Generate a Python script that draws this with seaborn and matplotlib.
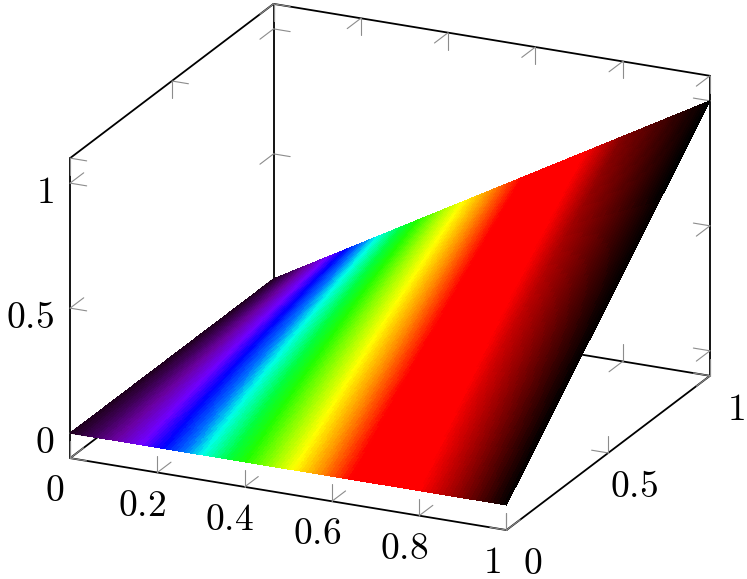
import matplotlib
matplotlib.use("Agg")
import matplotlib.pyplot as plt
import matplotlib.transforms as mtransforms
from matplotlib.colors import LinearSegmentedColormap
import numpy as np
import seaborn as sns

# one bilinear patch: heights and colour values along the front (y=0) and back (y=1) edge
x_vals = [0.0, 0.2, 0.4, 0.6, 0.8, 1.0]
z_front = [0.0, 0.0, 0.0, 0.0, 0.0, 0.0]
z_back = [0.0, 0.2, 0.4, 0.6, 0.8, 1.0]
meta_front = [0.0, 0.2, 0.4, 0.6, 0.8, 1.0]
meta_back = [0.0, 0.26, 0.48, 0.67, 0.90, 1.0]

x_ticks = [0, 0.2, 0.4, 0.6, 0.8, 1]
y_ticks = [0, 0.5, 1]
z_ticks = [0, 0.5, 1]
x_labels = ["0", "0.2", "0.4", "0.6", "0.8", "1"]
y_labels = ["0", "0.5", "1"]
z_labels = ["0", "0.5", "1"]

cmap_pos = [0.0, 0.05, 0.10, 0.16, 0.21, 0.26, 0.30, 0.36, 0.40, 0.47, 0.51, 0.57, 0.64, 0.80, 0.90, 1.0]
cmap_col = ["#200020", "#40005a", "#6a00a0", "#7000ff", "#0000ff", "#0070ff", "#00ffe8", "#00ff40",
            "#20ff00", "#b0ff00", "#ffff00", "#ff9000", "#ff0000", "#ff0000", "#800000", "#000000"]
cmap = LinearSegmentedColormap.from_list("rainbow_black", list(zip(cmap_pos, cmap_col)))

z_lo, z_hi = -0.1, 1.1

sns.set_theme(style="white")
plt.rcParams["mathtext.fontset"] = "cm"

fig = plt.figure(figsize=(7.47, 5.79), dpi=100)
ax = fig.add_axes([0.1241, 0.0254, 0.7751, 1.0], projection="3d", computed_zorder=False)
ax.set_proj_type("ortho")
ax.view_init(elev=20.7, azim=-65)
ax.set_box_aspect((1, 1, 0.666), zoom=1.262)
ax.set_xlim(0, 1)
ax.set_ylim(0, 1)
ax.set_zlim(z_lo, z_hi)
ax.set_axis_off()
for axis in (ax.xaxis, ax.yaxis, ax.zaxis):
    axis.label.set_visible(False)
    axis.offsetText.set_visible(False)

# shader=interp: refine the patch for smooth colours
u = np.linspace(0, 1, 161)
v = np.linspace(0, 1, 61)
U, V = np.meshgrid(u, v)
Z = (1 - V) * np.interp(U, x_vals, z_front) + V * np.interp(U, x_vals, z_back)
M = (1 - V) * np.interp(U, x_vals, meta_front) + V * np.interp(U, x_vals, meta_back)
surf = ax.plot_surface(U, V, Z, facecolors=cmap(M), rstride=1, cstride=1, shade=False,
                       linewidth=0, antialiased=False, zorder=2)
surf.set_clip_on(False)

# box: the edges of the three back faces, with pgfplots style ticks
lims = [(0, 1), (0, 1), (z_lo, z_hi)]
back = [0, 1, z_lo]
ticks = [x_ticks, y_ticks, z_ticks]
tick_len = [0.038, 0.067, 0.068]
for a in range(3):
    o1, o2 = [i for i in range(3) if i != a]
    for b1 in lims[o1]:
        for b2 in lims[o2]:
            if b1 != back[o1] and b2 != back[o2]:
                continue
            p0 = [0, 0, 0]
            p0[o1], p0[o2] = b1, b2
            p1 = list(p0)
            p0[a], p1[a] = lims[a]
            ax.plot(*zip(p0, p1), color="black", lw=1.3, zorder=1, clip_on=False)
            for t in ticks[a]:
                p = [0, 0, 0]
                p[a], p[o1], p[o2] = t, b1, b2
                for o, b in ((o1, b1), (o2, b2)):
                    q = list(p)
                    q[o] = b + (tick_len[o] if b == lims[o][0] else -tick_len[o])
                    ax.plot(*zip(p, q), color="0.55", lw=0.8, zorder=1.5, clip_on=False)


def put_label(x, y, z, s, dx, dy, ha):
    tr = mtransforms.offset_copy(ax.transData, fig=fig, x=dx, y=dy, units="dots")
    ax.text(x, y, z, "$" + s + "$", transform=tr, ha=ha, va="center",
            fontsize=27, color="black", zorder=3, clip_on=False)


for t, s in zip(x_ticks, x_labels):
    put_label(t, 0, z_lo, s, -15, -33, "center")
for t, s in zip(y_ticks, y_labels):
    put_label(1, t, z_lo, s, 26, -34, "center")
for t, s in zip(z_ticks, z_labels):
    put_label(0, 0, t, s, -16, -10, "right")

fig.savefig("out.png", dpi=100, facecolor="white")
